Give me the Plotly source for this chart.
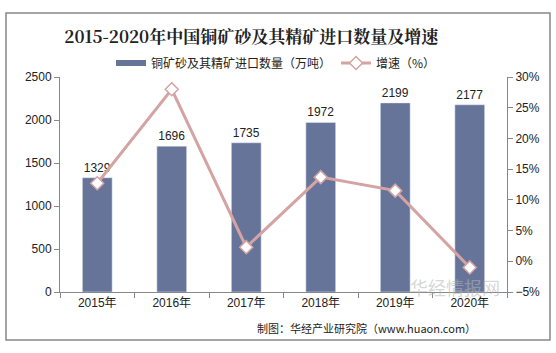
import plotly.graph_objects as go

years = ["2015年", "2016年", "2017年", "2018年", "2019年", "2020年"]
volume = [1329, 1696, 1735, 1972, 2199, 2177]
growth = [12.7, 28.0, 2.3, 13.7, 11.5, -1.0]

W, H = 556, 353
L, R, T, B = 60, 507, 77, 292
pw, ph = R - L, B - T

def px(x):
    return (x - L) / pw

def py(y):
    return (B - y) / ph

BAR_C = "#67749A"
LINE_C = "#D4A3A3"

fig = go.Figure()
fig.add_trace(go.Bar(
    x=years, y=volume, name="铜矿砂及其精矿进口数量（万吨）", showlegend=False,
    marker_color=BAR_C, text=[str(v) for v in volume],
    textposition="outside", textfont=dict(size=12, color="#222"),
    cliponaxis=False,
))
# legend stand-in for the bar series (wide flat swatch as in the reference)
fig.add_trace(go.Scatter(
    x=[None], y=[None], name="铜矿砂及其精矿进口数量（万吨）", mode="lines",
    line=dict(color=BAR_C, width=6), legendrank=1,
))
fig.add_trace(go.Scatter(
    x=years, y=growth, name="增速（%）", yaxis="y2", mode="lines+markers",
    line=dict(color=LINE_C, width=3), legendrank=2,
    marker=dict(symbol="diamond", size=10, color="white",
                line=dict(color=LINE_C, width=1.5)),
))

fig.update_layout(
    width=W, height=H,
    margin=dict(l=L, r=W - R, t=T, b=H - B),
    paper_bgcolor="white", plot_bgcolor="white",
    font=dict(family="Liberation Sans, Arial, Noto Sans CJK SC", size=11, color="#333"),
    bargap=0.6,
    title=dict(text="<b>2015-2020年中国铜矿砂及其精矿进口数量及增速</b>",
               x=px(262), xanchor="center", y=1 - 37 / H, yanchor="middle",
               font=dict(family="Noto Serif CJK SC, Noto Sans CJK SC", size=17, color="#222")),
    legend=dict(orientation="h", x=px(276), xanchor="center", y=py(63), yanchor="middle",
                font=dict(family="Noto Sans CJK SC", size=12, color="#222"),
                itemwidth=30, tracegroupgap=0, bgcolor="rgba(0,0,0,0)"),
    xaxis=dict(showline=True, linecolor="#888", ticks="outside", tickson="boundaries",
               ticklen=5, tickcolor="#888", showgrid=False,
               tickfont=dict(family="Liberation Sans, Noto Sans CJK SC", size=12, color="#222")),
    yaxis=dict(range=[0, 2500], dtick=500, showline=True, linecolor="#888", ticks="outside",
               ticklen=5, tickcolor="#888", showgrid=False, zeroline=False,
               tickfont=dict(size=12, color="#222")),
    yaxis2=dict(range=[-5, 30], dtick=5, overlaying="y", side="right", ticksuffix="%",
                showline=True, linecolor="#888", ticks="outside", ticklen=5, tickcolor="#888",
                showgrid=False, zeroline=False, tickfont=dict(size=12, color="#222")),
    showlegend=True,
)

fig.add_shape(type="rect", xref="paper", yref="paper",
              x0=px(6), x1=px(550), y0=py(340), y1=py(13),
              line=dict(color="#888", width=1.5), layer="below")

fig.add_annotation(text="华经情报网", xref="paper", yref="paper",
                   x=px(502), y=py(302), showarrow=False,
                   font=dict(family="Noto Sans CJK SC", size=18, color="rgba(180,180,180,0.55)"))
fig.add_annotation(text="制图：华经产业研究院（www.huaon.com）", xref="paper", yref="paper",
                   x=px(478), xanchor="right", y=py(328), yanchor="middle", showarrow=False,
                   font=dict(family="Noto Sans CJK SC", size=11, color="#222"))

fig.write_html("out.html")
